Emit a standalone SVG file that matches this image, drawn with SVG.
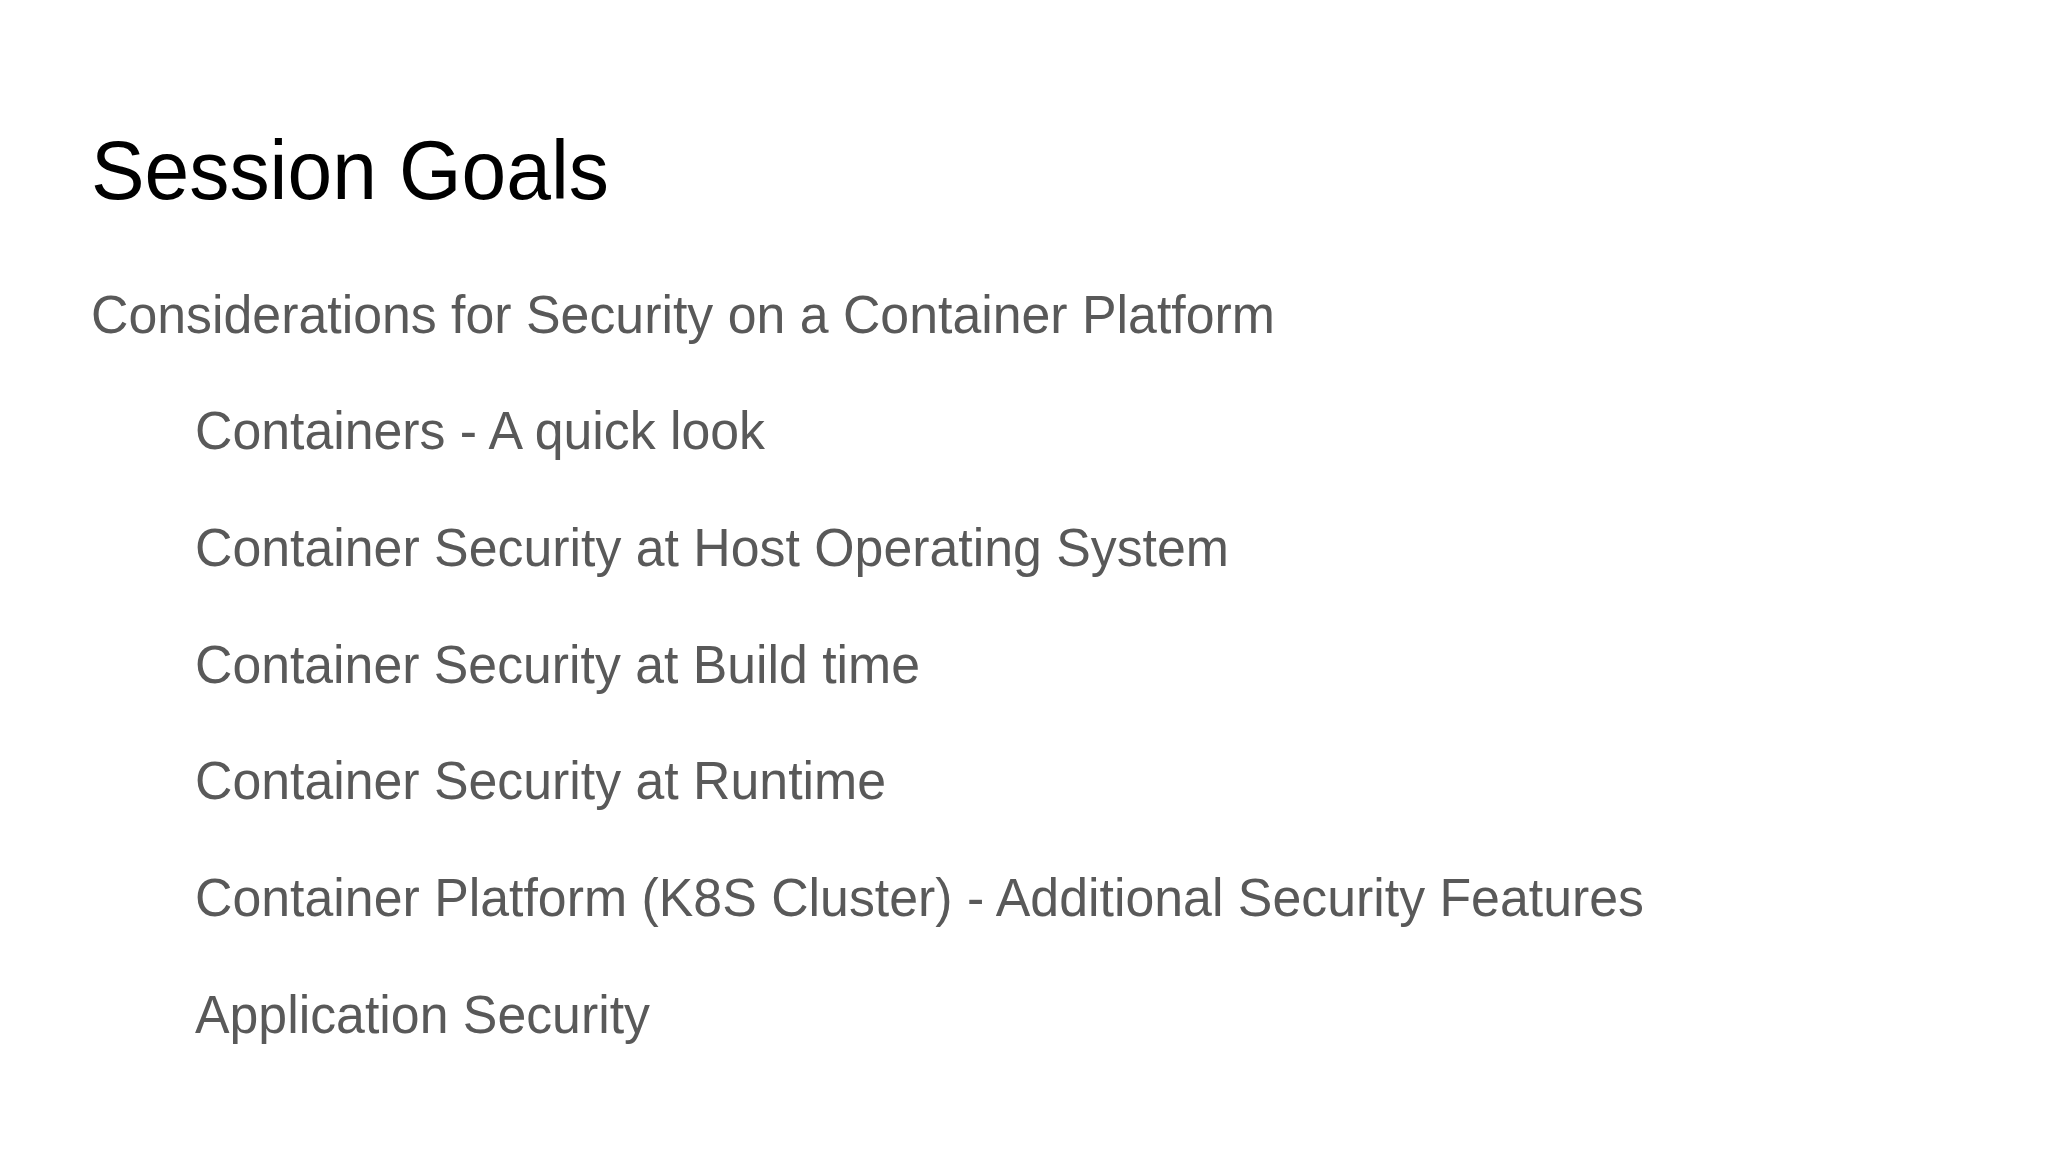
<svg xmlns="http://www.w3.org/2000/svg" width="2048" height="1152" viewBox="0 0 2048 1152">
<style>
.t{font-family:"Liberation Sans",Arial,sans-serif;fill:#000;font-size:84px}
.b{font-family:"Liberation Sans",Arial,sans-serif;fill:#595959;font-size:53px}
</style>
<rect width="2048" height="1152" fill="#fff"/>
<g id="title"><text class="t" x="91" y="199" textLength="518" lengthAdjust="spacingAndGlyphs">Session Goals</text></g>
<g id="body">
<text class="b" x="91" y="333" textLength="1184" lengthAdjust="spacingAndGlyphs">Considerations for Security on a Container Platform</text>
<text class="b" x="195" y="449" textLength="570" lengthAdjust="spacingAndGlyphs">Containers - A quick look</text>
<text class="b" x="195" y="566" textLength="1034" lengthAdjust="spacingAndGlyphs">Container Security at Host Operating System</text>
<text class="b" x="195" y="683" textLength="725" lengthAdjust="spacingAndGlyphs">Container Security at Build time</text>
<text class="b" x="195" y="799" textLength="691" lengthAdjust="spacingAndGlyphs">Container Security at Runtime</text>
<text class="b" x="195" y="916" textLength="1449" lengthAdjust="spacingAndGlyphs">Container Platform (K8S Cluster) - Additional Security Features</text>
<text class="b" x="195" y="1033" textLength="455" lengthAdjust="spacingAndGlyphs">Application Security</text>
</g>
</svg>
